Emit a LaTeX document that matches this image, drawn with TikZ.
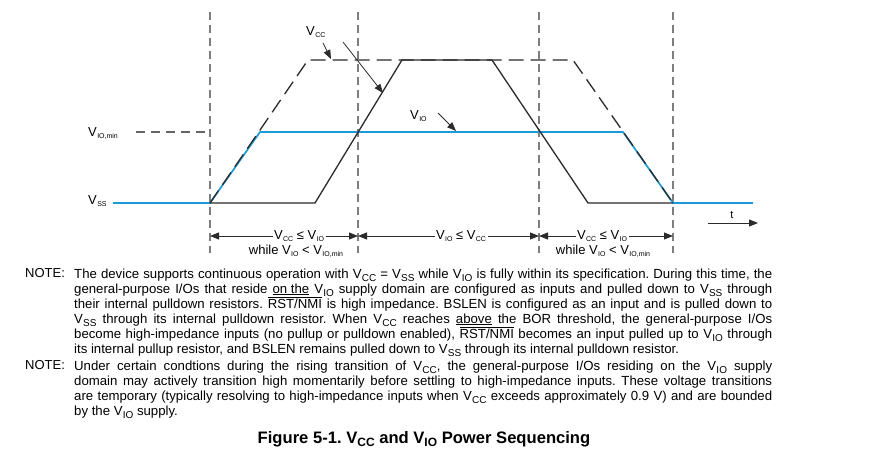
\documentclass[tikz,border=0pt]{standalone}
\usepackage{fontspec}
\setmainfont{Liberation Sans}
\usetikzlibrary{arrows.meta, positioning}
\definecolor{tiblue}{HTML}{1E9AD6}
\definecolor{gridgray}{HTML}{7E7E7E}
\definecolor{dkline}{HTML}{2B2B2B}

% small subscripts: diagram labels, note text, caption
\newcommand{\pin}[1]{V\kern.4pt\raisebox{-2pt}{\fontsize{7}{7}\selectfont #1}}
\newcommand{\vsb}[1]{V\kern.2pt\raisebox{-2.9pt}{\fontsize{10}{10}\selectfont #1}}
\newcommand{\vcap}[1]{V\raisebox{-3pt}{\fontsize{12}{12}\selectfont\bfseries #1}}
\newcommand{\ovl}[1]{$\overline{\hbox{#1}}$}

\begin{document}
\frenchspacing
\begin{tikzpicture}[x=1pt, y=-1pt,
  >={Triangle[length=9pt, width=7pt]},
  vguide/.style={draw=gridgray, line width=1.2pt, dash pattern=on 8pt off 5pt},
  rail/.style={draw=dkline, line width=1.3pt, dash pattern=on 15pt off 7pt},
  vccline/.style={draw=dkline, line width=1.3pt, line join=round},
  violine/.style={draw=tiblue, line width=1.7pt, line join=round},
  ptr/.style={->, line width=0.8pt, dkline},
  dim/.style={<->, line width=0.9pt, dkline},
  lbl/.style={font=\fontsize{13}{13}\selectfont, inner sep=0pt},
  cond/.style={font=\fontsize{13}{13}\selectfont, inner sep=1.5pt, fill=white},
  notetxt/.style={font=\fontsize{13.2}{15}\selectfont, text width=698pt,
    align=justify, inner sep=0pt, anchor=north west},
]

% Background
\fill[white] (0,0) rectangle (879,473);
\useasboundingbox (0,0) rectangle (879,473);

% Time markers
\foreach \mx in {210,358,539,673}
  \draw[vguide] (\mx,12) -- (\mx,253);

% V_IO,min level
\draw[rail, draw=gridgray!80!black, dash pattern=on 9pt off 6pt] (136,132) -- (210,132);

% V_IO supply
\draw[violine] (113,203) -- (210,203) -- (260,132) -- (623,132) -- (673,203) -- (753,203);
\draw[rail] (210,203) -- (308,60) -- (573,60) -- (673,203);

% V_CC supply
\draw[vccline] (210,203) -- (315,203) -- (402,60) -- (492,60) -- (588,203) -- (673,203);

% Rail labels
\node[lbl, anchor=base west] (vss-lbl) at (88,205) {\pin{SS}};
\node[lbl, anchor=base west] (viomin-lbl) at (88,137) {\pin{IO,min}};

% Pointers
\node[lbl, anchor=base west] (vcc-lbl) at (306,36) {\pin{CC}};
\coordinate (vcc-a1) at (323,43);
\coordinate (vcc-b1) at (331,59);
\coordinate (vcc-a2) at (343,42);
\coordinate (vcc-b2) at (383,93);
\draw[ptr] (vcc-a1) -- (vcc-b1);
\draw[ptr] (vcc-a2) -- (vcc-b2);

\node[lbl, anchor=base west] (vio-lbl) at (410,120) {\pin{IO}};
\coordinate (vio-a) at (438,113);
\coordinate (vio-b) at (456,131);
\draw[ptr] (vio-a) -- (vio-b);

% Time axis
\coordinate (t-from) at (708,223);
\coordinate (t-to) at (758,223);
\draw[->, line width=0.9pt, dkline] (t-from) -- (t-to);
\node[font=\fontsize{11}{11}\selectfont, inner sep=0pt, anchor=base] (t-lbl) at (732,219) {t};

% Intervals
\foreach \n/\x in {m1/210, m2/358, m3/539, m4/673}
  \coordinate (\n) at (\x,236);
\draw[dim] (m1) -- (m2);
\draw[dim] (m2) -- (m3);
\draw[dim] (m3) -- (m4);

\node[cond, anchor=base] (r1-cond) at (299,240) {\pin{CC} ≤ \pin{IO}};
\node[lbl, anchor=base] (r1-while) at (296,255) {while \pin{IO} < \pin{IO,min}};
\node[cond, anchor=base] (r2-cond) at (461,240) {\pin{IO} ≤ \pin{CC}};
\node[cond, anchor=base] (r3-cond) at (602,240) {\pin{CC} ≤ \pin{IO}};
\node[lbl, anchor=base] (r3-while) at (603,255) {while \pin{IO} < \pin{IO,min}};

% Notes
\node[font=\fontsize{13}{15}\selectfont, inner sep=0pt, anchor=north west] (note1-tag) at (25,268.4) {NOTE:};
\node[notetxt] (note1) at (74,268.4) {The device supports continuous operation with \vsb{CC} = \vsb{SS} while \vsb{IO} is fully within its specification. During this time, the\linebreak
general-purpose I/Os that reside \underline{on the} \vsb{IO} supply domain are configured as inputs and pulled down to \vsb{SS} through\linebreak
their internal pulldown resistors. \ovl{RST/NMI} is high impedance. BSLEN is configured as an input and is pulled down to\linebreak
\vsb{SS} through its internal pulldown resistor. When \vsb{CC} reaches \underline{above} the BOR threshold, the general-purpose I/Os\linebreak
become high-impedance inputs (no pullup or pulldown enabled), \ovl{RST/NMI} becomes an input pulled up to \vsb{IO} through\linebreak
its internal pullup resistor, and BSLEN remains pulled down to \vsb{SS} through its internal pulldown resistor.};

\node[font=\fontsize{13}{15}\selectfont, inner sep=0pt, anchor=north west] (note2-tag) at (25,360.7) {NOTE:};
\node[notetxt] (note2) at (74,360.7) {Under certain condtions during the rising transition of \vsb{CC}, the general-purpose I/Os residing on the \vsb{IO} supply\linebreak
domain may actively transition high momentarily before settling to high-impedance inputs. These voltage transitions\linebreak
are temporary (typically resolving to high-impedance inputs when \vsb{CC} exceeds approximately 0.9 V) and are bounded\linebreak
by the \vsb{IO} supply.};

% Caption
\node[font=\fontsize{16.6}{17}\selectfont\bfseries, inner sep=0pt, anchor=base] (fig-cap) at (424,443)
  {Figure 5-1. \vcap{CC} and \vcap{IO} Power Sequencing};

\end{tikzpicture}
\end{document}
